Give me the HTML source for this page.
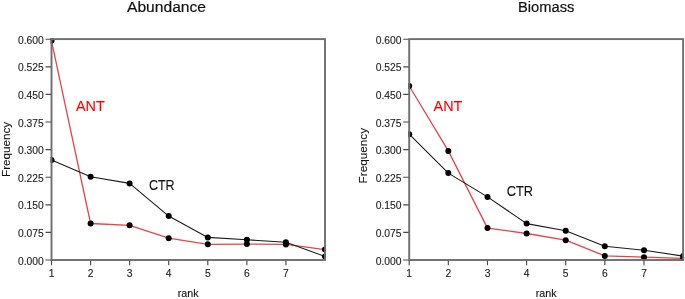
<!DOCTYPE html>
<html><head><meta charset="utf-8"><title>Rank abundance</title>
<style>
html,body{margin:0;padding:0;background:#fff;}
svg{display:block;font-family:"Liberation Sans",sans-serif;}
.tick{font-size:10.3px;fill:#1c1c1c;stroke:#1c1c1c;stroke-width:.12px;}
.ax{font-size:10.7px;fill:#111;stroke:#111;stroke-width:.12px;}
.ttl{font-size:15.5px;fill:#111;stroke:#111;stroke-width:.2px;}
.lab{font-size:15.2px;stroke-width:.1px;}
</style></head><body>
<svg width="685" height="299" viewBox="0 0 685 299">
<rect width="685" height="299" fill="#fff"/>
<defs><clipPath id="cp0"><rect x="50.55" y="38.15" width="275.40" height="222.80"/></clipPath></defs>
<g clip-path="url(#cp0)">
<polyline points="51.5,40.8 90.6,223.5 129.6,225.3 168.7,238.2 207.8,244.3 246.9,244.1 285.9,244.4 325.0,249.6" fill="none" stroke="#e4444c" stroke-width="1.3" stroke-linejoin="round"/>
<polyline points="51.5,159.9 90.6,176.8 129.6,183.4 168.7,216.1 207.8,237.4 246.9,239.8 285.9,242.2 325.0,256.4" fill="none" stroke="#1a1a1a" stroke-width="1.1" stroke-linejoin="round"/>
<circle cx="51.5" cy="40.8" r="3" fill="#000"/>
<circle cx="90.6" cy="223.5" r="3" fill="#000"/>
<circle cx="129.6" cy="225.3" r="3" fill="#000"/>
<circle cx="168.7" cy="238.2" r="3" fill="#000"/>
<circle cx="207.8" cy="244.3" r="3" fill="#000"/>
<circle cx="246.9" cy="244.1" r="3" fill="#000"/>
<circle cx="285.9" cy="244.4" r="3" fill="#000"/>
<circle cx="325.0" cy="249.6" r="3" fill="#000"/>
<circle cx="51.5" cy="159.9" r="3" fill="#000"/>
<circle cx="90.6" cy="176.8" r="3" fill="#000"/>
<circle cx="129.6" cy="183.4" r="3" fill="#000"/>
<circle cx="168.7" cy="216.1" r="3" fill="#000"/>
<circle cx="207.8" cy="237.4" r="3" fill="#000"/>
<circle cx="246.9" cy="239.8" r="3" fill="#000"/>
<circle cx="285.9" cy="242.2" r="3" fill="#000"/>
<circle cx="325.0" cy="256.4" r="3" fill="#000"/>
</g>
<rect x="51.50" y="39.1" width="273.50" height="220.90" fill="none" stroke="#6e6e6e" stroke-width="1.9"/>
<path d="M45.50 260.00H51.00M45.50 232.40H51.00M45.50 204.80H51.00M45.50 177.20H51.00M45.50 149.60H51.00M45.50 122.00H51.00M45.50 94.40H51.00M45.50 66.80H51.00M45.50 39.20H51.00M51.50 260.50V265.30M90.57 260.50V265.30M129.64 260.50V265.30M168.71 260.50V265.30M207.79 260.50V265.30M246.86 260.50V265.30M285.93 260.50V265.30" stroke="#4a4a4a" stroke-width="1.15" fill="none"/>
<text class="tick" x="43.8" y="264.5" text-anchor="end">0.000</text>
<text class="tick" x="43.8" y="236.9" text-anchor="end">0.075</text>
<text class="tick" x="43.8" y="209.3" text-anchor="end">0.150</text>
<text class="tick" x="43.8" y="181.7" text-anchor="end">0.225</text>
<text class="tick" x="43.8" y="154.1" text-anchor="end">0.300</text>
<text class="tick" x="43.8" y="126.5" text-anchor="end">0.375</text>
<text class="tick" x="43.8" y="98.9" text-anchor="end">0.450</text>
<text class="tick" x="43.8" y="71.3" text-anchor="end">0.525</text>
<text class="tick" x="43.8" y="43.7" text-anchor="end">0.600</text>
<text class="tick" x="51.5" y="276.8" text-anchor="middle">1</text>
<text class="tick" x="90.6" y="276.8" text-anchor="middle">2</text>
<text class="tick" x="129.6" y="276.8" text-anchor="middle">3</text>
<text class="tick" x="168.7" y="276.8" text-anchor="middle">4</text>
<text class="tick" x="207.8" y="276.8" text-anchor="middle">5</text>
<text class="tick" x="246.9" y="276.8" text-anchor="middle">6</text>
<text class="tick" x="285.9" y="276.8" text-anchor="middle">7</text>
<text class="ax" x="188.2" y="296.6" text-anchor="middle" textLength="20.8" lengthAdjust="spacingAndGlyphs">rank</text>
<text class="ax" transform="translate(9.8 177.0) rotate(-90)" textLength="55.2" lengthAdjust="spacingAndGlyphs" style="font-size:11.6px">Frequency</text>
<text class="ttl" x="127.0" y="12.3" textLength="79.0" lengthAdjust="spacingAndGlyphs">Abundance</text>
<text class="lab" x="75.9" y="111.1" fill="#ff0000" stroke="#ff0000" textLength="28.8" lengthAdjust="spacingAndGlyphs">ANT</text>
<text class="lab" x="148.9" y="190.4" fill="#111" stroke="#111" textLength="25.8" lengthAdjust="spacingAndGlyphs">CTR</text>
<defs><clipPath id="cp1"><rect x="408.25" y="38.15" width="275.80" height="222.80"/></clipPath></defs>
<g clip-path="url(#cp1)">
<polyline points="409.2,86.0 448.3,150.9 487.5,228.1 526.6,233.5 565.7,240.2 604.8,255.9 644.0,257.2 683.1,258.4" fill="none" stroke="#e4444c" stroke-width="1.3" stroke-linejoin="round"/>
<polyline points="409.2,134.2 448.3,173.1 487.5,196.9 526.6,223.6 565.7,230.8 604.8,246.3 644.0,250.2 683.1,256.1" fill="none" stroke="#1a1a1a" stroke-width="1.1" stroke-linejoin="round"/>
<circle cx="409.2" cy="86.0" r="3" fill="#000"/>
<circle cx="448.3" cy="150.9" r="3" fill="#000"/>
<circle cx="487.5" cy="228.1" r="3" fill="#000"/>
<circle cx="526.6" cy="233.5" r="3" fill="#000"/>
<circle cx="565.7" cy="240.2" r="3" fill="#000"/>
<circle cx="604.8" cy="255.9" r="3" fill="#000"/>
<circle cx="644.0" cy="257.2" r="3" fill="#000"/>
<circle cx="683.1" cy="258.4" r="3" fill="#000"/>
<circle cx="409.2" cy="134.2" r="3" fill="#000"/>
<circle cx="448.3" cy="173.1" r="3" fill="#000"/>
<circle cx="487.5" cy="196.9" r="3" fill="#000"/>
<circle cx="526.6" cy="223.6" r="3" fill="#000"/>
<circle cx="565.7" cy="230.8" r="3" fill="#000"/>
<circle cx="604.8" cy="246.3" r="3" fill="#000"/>
<circle cx="644.0" cy="250.2" r="3" fill="#000"/>
<circle cx="683.1" cy="256.1" r="3" fill="#000"/>
</g>
<rect x="409.20" y="39.1" width="273.90" height="220.90" fill="none" stroke="#6e6e6e" stroke-width="1.9"/>
<path d="M403.20 260.00H408.70M403.20 232.40H408.70M403.20 204.80H408.70M403.20 177.20H408.70M403.20 149.60H408.70M403.20 122.00H408.70M403.20 94.40H408.70M403.20 66.80H408.70M403.20 39.20H408.70M409.20 260.50V265.30M448.33 260.50V265.30M487.46 260.50V265.30M526.59 260.50V265.30M565.71 260.50V265.30M604.84 260.50V265.30M643.97 260.50V265.30" stroke="#4a4a4a" stroke-width="1.15" fill="none"/>
<text class="tick" x="401.5" y="264.5" text-anchor="end">0.000</text>
<text class="tick" x="401.5" y="236.9" text-anchor="end">0.075</text>
<text class="tick" x="401.5" y="209.3" text-anchor="end">0.150</text>
<text class="tick" x="401.5" y="181.7" text-anchor="end">0.225</text>
<text class="tick" x="401.5" y="154.1" text-anchor="end">0.300</text>
<text class="tick" x="401.5" y="126.5" text-anchor="end">0.375</text>
<text class="tick" x="401.5" y="98.9" text-anchor="end">0.450</text>
<text class="tick" x="401.5" y="71.3" text-anchor="end">0.525</text>
<text class="tick" x="401.5" y="43.7" text-anchor="end">0.600</text>
<text class="tick" x="409.2" y="276.8" text-anchor="middle">1</text>
<text class="tick" x="448.3" y="276.8" text-anchor="middle">2</text>
<text class="tick" x="487.5" y="276.8" text-anchor="middle">3</text>
<text class="tick" x="526.6" y="276.8" text-anchor="middle">4</text>
<text class="tick" x="565.7" y="276.8" text-anchor="middle">5</text>
<text class="tick" x="604.8" y="276.8" text-anchor="middle">6</text>
<text class="tick" x="644.0" y="276.8" text-anchor="middle">7</text>
<text class="ax" x="546.1" y="296.6" text-anchor="middle" textLength="20.8" lengthAdjust="spacingAndGlyphs">rank</text>
<text class="ax" transform="translate(367.0 183.4) rotate(-90)" textLength="55.4" lengthAdjust="spacingAndGlyphs" style="font-size:11.6px">Frequency</text>
<text class="ttl" x="518.0" y="12.3" textLength="56.4" lengthAdjust="spacingAndGlyphs">Biomass</text>
<text class="lab" x="433.6" y="110.9" fill="#ff0000" stroke="#ff0000" textLength="28.8" lengthAdjust="spacingAndGlyphs">ANT</text>
<text class="lab" x="506.7" y="196.4" fill="#111" stroke="#111" textLength="26.3" lengthAdjust="spacingAndGlyphs">CTR</text>
</svg>
</body></html>
